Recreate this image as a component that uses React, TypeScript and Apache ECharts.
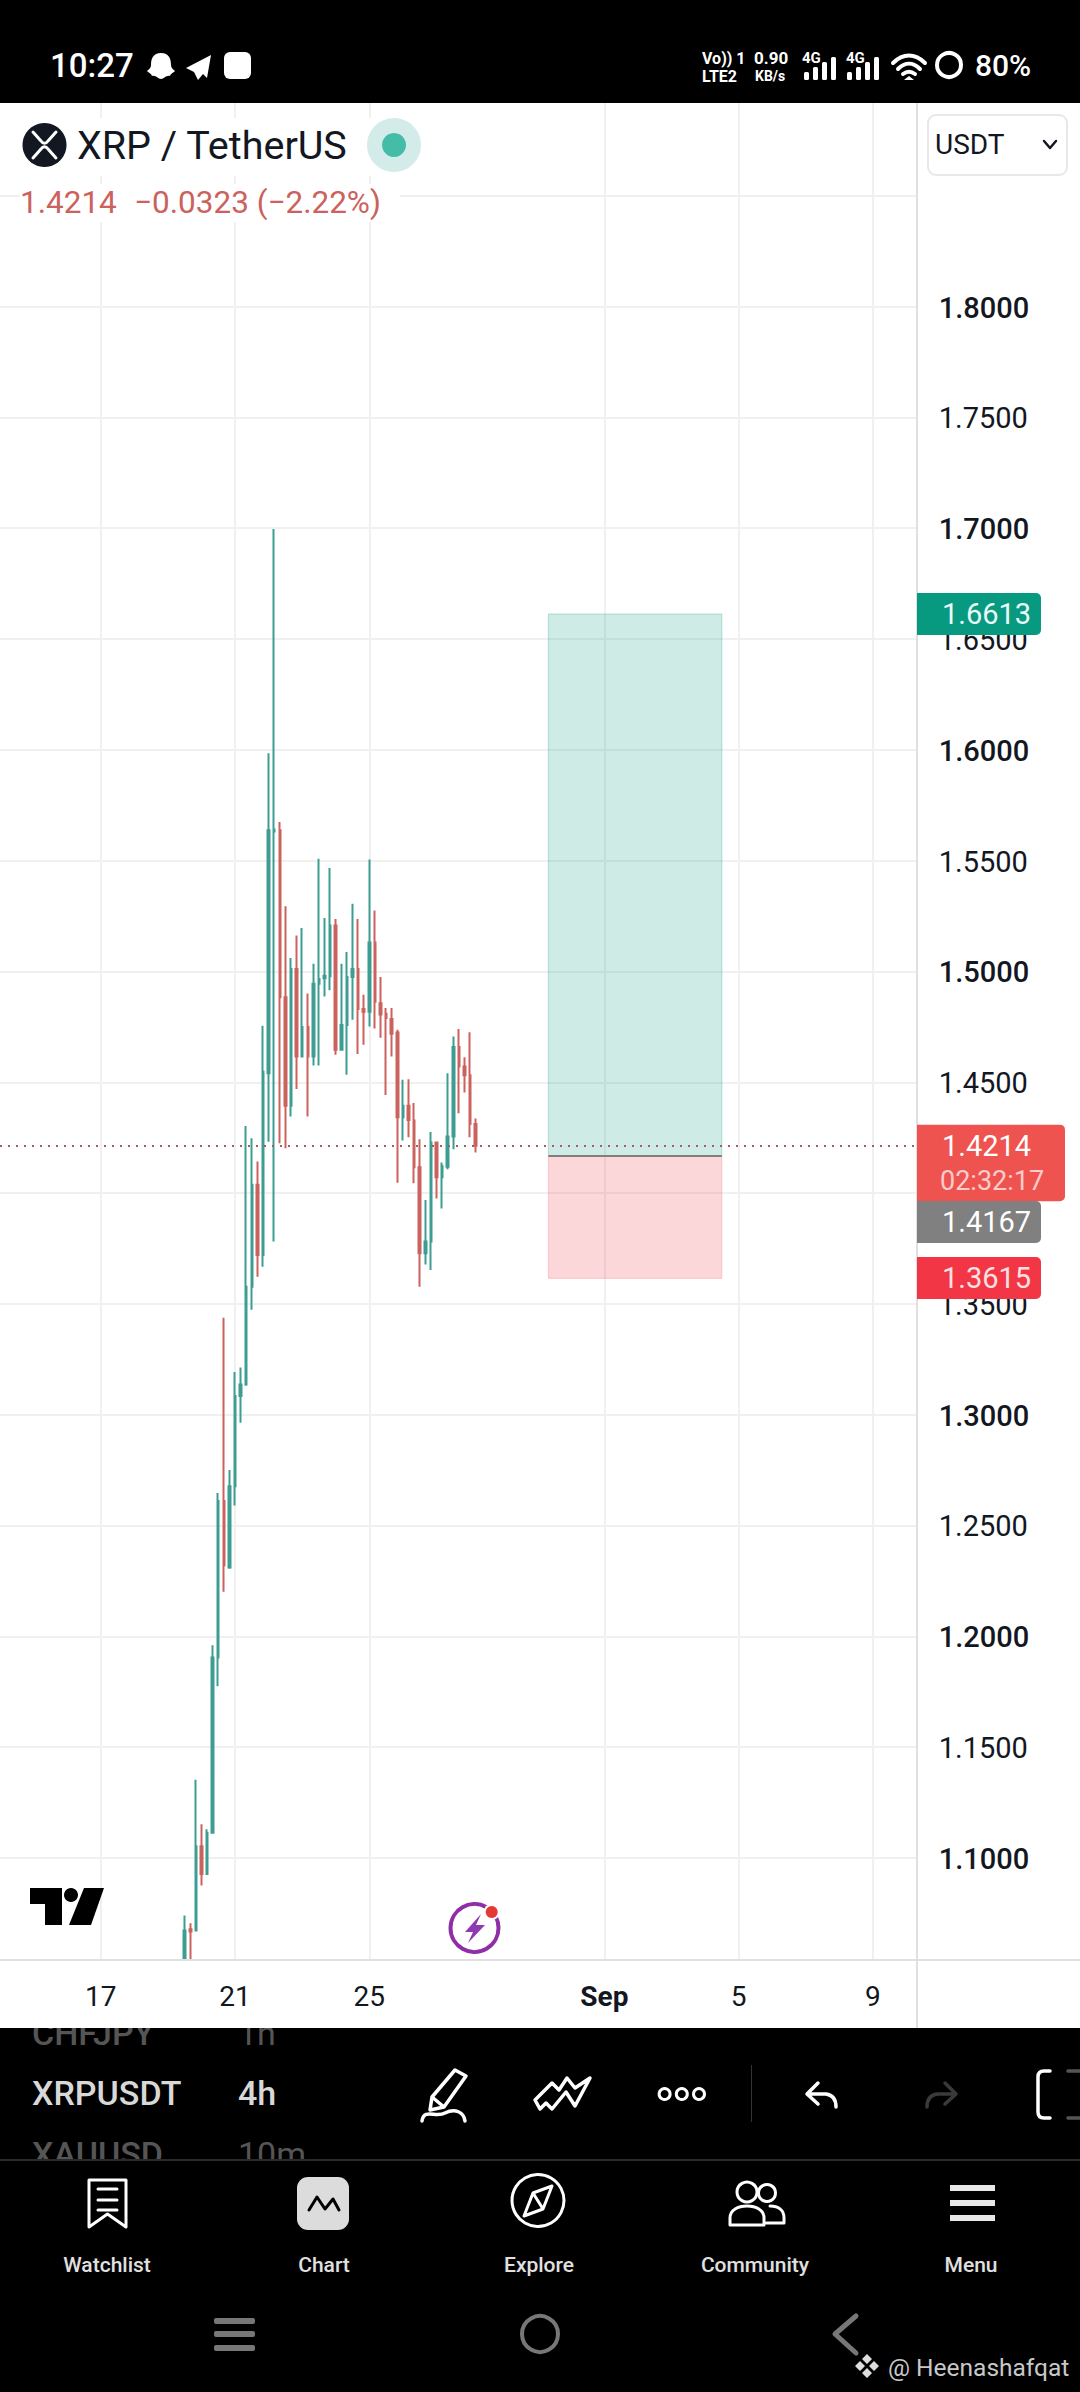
import React, { useEffect, useRef } from "react";
import * as echarts from "echarts";

const FONT = "Roboto, sans-serif";
const INK = "#131722";
const UP = "#3e9d92";
const DOWN = "#cb625e";

// Slots are 4h bars. Tick labels sit on these slots.
const slotCount = 165;
const firstBarSlot = 33;
const tickSlots = [18, 42, 66, 108, 132, 156];
const tickLabels = ["17", "21", "25", "Sep", "5", "9"];
const boldTickLabels = ["Sep"];

const opens = [1.04, 1.0678, 1.0672, 1.1052, 1.0927, 1.1114, 1.1904, 1.261, 1.231, 1.2677, 1.3084, 1.3136, 1.3577, 1.4037, 1.372, 1.4541, 1.5632, 1.5637, 1.4884, 1.4394, 1.5011, 1.4616, 1.4749, 1.4616, 1.4945, 1.4969, 1.4978, 1.5207, 1.4647, 1.4758, 1.4975, 1.5011, 1.483, 1.4818, 1.5131, 1.4857, 1.4809, 1.4785, 1.4725, 1.4342, 1.4394, 1.4327, 1.4116, 1.3728, 1.3781, 1.4228, 1.4071, 1.4119, 1.4255, 1.4659, 1.4571, 1.4532, 1.4312];
const closes = [1.0672, 1.0668, 1.1052, 1.0927, 1.1114, 1.1904, 1.261, 1.232, 1.2677, 1.3084, 1.3136, 1.3577, 1.4037, 1.372, 1.4549, 1.5637, 1.564, 1.4884, 1.4394, 1.5011, 1.4616, 1.4749, 1.4616, 1.4945, 1.4966, 1.4981, 1.5207, 1.4647, 1.4758, 1.4975, 1.5011, 1.483, 1.4818, 1.5131, 1.4863, 1.4806, 1.479, 1.4719, 1.4342, 1.4394, 1.433, 1.4116, 1.3728, 1.3781, 1.4228, 1.4071, 1.4122, 1.4255, 1.4659, 1.4571, 1.4532, 1.4312, 1.4214];
const lows = [1.03, 1.04, 1.0672, 1.0875, 1.0927, 1.1114, 1.1775, 1.2201, 1.2305, 1.259, 1.2964, 1.313, 1.3473, 1.3622, 1.3668, 1.4232, 1.3781, 1.4225, 1.4202, 1.4345, 1.4469, 1.4616, 1.4345, 1.4576, 1.4576, 1.4887, 1.4915, 1.4624, 1.4644, 1.4534, 1.4782, 1.4628, 1.4669, 1.4752, 1.4743, 1.4701, 1.4442, 1.4616, 1.4047, 1.4237, 1.4252, 1.4044, 1.3577, 1.3678, 1.3653, 1.3975, 1.393, 1.4107, 1.4198, 1.436, 1.4454, 1.4252, 1.4183];
const highs = [1.074, 1.0705, 1.1353, 1.1152, 1.1129, 1.196, 1.2646, 1.3437, 1.275, 1.3192, 1.3213, 1.4303, 1.4247, 1.4142, 1.4755, 1.5985, 1.6997, 1.5674, 1.5294, 1.5061, 1.5162, 1.5196, 1.49, 1.5035, 1.5508, 1.5241, 1.5467, 1.5237, 1.5035, 1.5088, 1.5306, 1.5237, 1.4895, 1.5505, 1.5275, 1.4975, 1.4835, 1.4835, 1.4737, 1.4511, 1.4514, 1.4406, 1.4243, 1.3969, 1.4275, 1.4228, 1.4138, 1.4541, 1.4707, 1.474, 1.4613, 1.4726, 1.4336];

// Long position tool
const positionStartSlot = 98;
const positionEndSlot = 129;
const targetPrice = 1.6613;
const entryPrice = 1.4167;
const stopPrice = 1.3615;
const lastPrice = 1.4214;
const countdown = "02:32:17";

// Price scale
const yMin = 1.05;
const yMax = 1.9;
const yStep = 0.05;
const yLabelLimit = 1.81;
const hiddenYLabels = ["1.4000"];

// Frame of the plot
const gridLeft = -4;
const gridWidth = 921.7;
const gridTop = 85;
const gridHeight = 1883.7;
const priceToY = (p: number) => gridTop + ((yMax - p) / (yMax - yMin)) * gridHeight;

const categories = Array.from({ length: slotCount }, (_, i) => String(i));
const candleData = opens.map((o, i) => [o, closes[i], lows[i], highs[i]]);

const shapes: Record<string, string> = {
  tvT: "M30 1888 L62 1888 L62 1925 L45 1925 L45 1904 L30 1904 Z",
  tvSlash: "M84 1888 L104 1888 L91 1925 L69 1925 Z",
  bolt: "M481 1914 L465 1932 L473 1932 L468 1943 L485 1925 L476 1925 Z",
  ghost: "M161 53 C153 53 151 59 151 65 C151 68 149 69 147 71 C149 73 151 73 152 76 C156 75 158 79 161 79 C164 79 166 75 170 76 C171 73 173 73 175 71 C173 69 171 68 171 65 C171 59 169 53 161 53 Z",
  plane: "M211 55 L186 68 L194 72 L198 80 L203 74 L207 78 Z",
  wifiArcs: "M893 63 C903 53 915 53 925 63 M898 69 C905 62 913 62 920 69 M903 74 C907 71 911 71 915 74",
  wifiArrows: "M909 76 L904 80 L914 80 Z",
  xrpX: "M33 132 L41 141 C43 144 46 144 48 141 L56 132 M33 158 L41 149 C43 146 46 146 48 149 L56 158",
  chevron: "M1044 141 L1050 148 L1056 141",
  pencil: "M455 2070 L466 2076 L444 2107 L430 2110 L432 2097 Z M432 2097 L444 2107",
  squiggle: "M422 2121 C424 2108 436 2118 445 2113 C455 2108 464 2112 465 2121",
  drawTools: "M535 2100 L552 2083 L559 2090 L567 2078 L575 2088 L590 2078 L575 2106 L566 2092 L552 2109 L546 2103 L540 2109 Z",
  undo: "M818 2083 L807 2094 L818 2104 M808 2094 L826 2094 C833 2095 836 2100 836 2107",
  redo: "M945 2083 L956 2094 L945 2104 M955 2094 L937 2094 C930 2095 927 2100 927 2107",
  fullLeft: "M1050 2071 L1044 2071 Q1038 2071 1038 2077 L1038 2112 Q1038 2118 1044 2118 L1050 2118",
  fullRight: "M1068 2071 L1080 2071 M1068 2118 L1080 2118",
  bookmark: "M89 2180 L126 2180 L126 2227 L107.5 2214 L89 2227 Z M98 2189 L117 2189 M98 2200 L117 2200 M98 2210 L117 2210",
  zigzag: "M309 2210 L317 2197 L325 2209 L333 2199 L339 2210",
  needle: "M552 2186 L543 2209 L524 2216 L533 2193 Z M533 2193 L543 2209",
  bodyA: "M730 2225 L764 2225 L764 2218 C764 2210 756 2206 747 2206 C738 2206 730 2210 730 2218 Z",
  bodyB: "M770 2206 C778 2206 784 2210 784 2218 L784 2223 L766 2223",
  back: "M856 2316 L835 2334 L856 2353",
  binance: "M867 2354 L872 2359 L867 2364 L862 2359 Z M867 2368 L872 2373 L867 2378 L862 2373 Z M860 2361 L865 2366 L860 2371 L855 2366 Z M874 2361 L879 2366 L874 2371 L869 2366 Z",
};
Object.keys(shapes).forEach((name) => {
  echarts.graphic.registerShape(name, echarts.graphic.extendPath(shapes[name] as any, {}));
});

const txt = (text: string, x: number, y: number, fontSize: number, fill: string, opts: any = {}) => ({
  type: "text",
  z: opts.z ?? 60,
  x,
  y,
  style: {
    text,
    fontSize,
    fontFamily: FONT,
    fontWeight: opts.weight ?? 400,
    fill,
    align: opts.align ?? "left",
    verticalAlign: "middle",
  },
});
const rect = (x: number, y: number, width: number, height: number, fill: string, z = 60, r: any = 0, extra: any = {}) => ({
  type: "rect",
  z,
  shape: { x, y, width, height, r },
  style: { fill, ...extra },
});
const stroke = (type: string, color: string, lineWidth: number, z = 60) => ({
  type,
  z,
  style: { fill: "none", stroke: color, lineWidth, lineCap: "round", lineJoin: "round" },
});
const solid = (type: string, color: string, z = 60) => ({ type, z, style: { fill: color } });
const circle = (cx: number, cy: number, r: number, style: any, z = 60) => ({
  type: "circle",
  z,
  shape: { cx, cy, r },
  style,
});

const priceChip = (price: number, y: number, fill: string, textFill: string) => [
  rect(917, y - 21, 124, 42, fill, 30, [0, 5, 5, 0]),
  txt(price.toFixed(4), 942, y, 29, textFill, { z: 31 }),
];

const navLabels = [
  ["Watchlist", 107],
  ["Chart", 324],
  ["Explore", 539],
  ["Community", 755],
  ["Menu", 971],
] as const;

function buildGraphics() {
  const lastY = priceToY(lastPrice);
  const signal = (x0: number) =>
    [0, 1, 2, 3].map((k) => rect(x0 + k * 9, 72 - k * 5, 5, 8 + k * 5, "#fff", 60, 1.5));
  return [
    // Chart overlays
    rect(10, 118, 415, 58, "#fff", 10),
    rect(20, 184, 380, 38, "#fff", 10),

    // Panels below the plot
    rect(0, 1961, 1080, 67, "#fff", 20),
    rect(0, 2028, 1080, 364, "#000", 10),
    txt("CHFJPY", 32, 2033, 34, "#555", { z: 15, weight: 500 }),
    txt("1h", 238, 2033, 34, "#555", { z: 15 }),
    txt("XAUUSD", 32, 2154, 34, "#555", { z: 15, weight: 500 }),
    txt("10m", 238, 2154, 34, "#555", { z: 15 }),
    rect(0, 2160, 1080, 232, "#000", 20),
    rect(0, 2159, 1080, 2, "#2a2a2a", 21),
    {
      type: "line",
      z: 25,
      shape: { x1: 917, y1: 103, x2: 917, y2: 2028 },
      style: { stroke: "#e0e0e0", lineWidth: 2 },
    },
    {
      type: "line",
      z: 25,
      shape: { x1: 0, y1: 1960, x2: 1080, y2: 1960 },
      style: { stroke: "#e0e0e0", lineWidth: 2 },
    },

    // Price chips
    rect(917, lastY - 21, 148, 76.5, "#ef5350", 30, [0, 5, 5, 0]),
    txt(lastPrice.toFixed(4), 942, lastY, 29, "#fff", { z: 31 }),
    txt(countdown, 940, lastY + 35, 27, "#fbcccc", { z: 31 }),
    ...priceChip(targetPrice, priceToY(targetPrice), "#089981", "#e8fbf6"),
    ...priceChip(entryPrice, 1222, "#808080", "#fff"),
    ...priceChip(stopPrice, 1278, "#f23645", "#fde0e2"),

    // Status bar
    rect(0, 0, 1080, 103, "#000", 50),
    txt("10:27", 50, 65, 33, "#fff", { weight: 500 }),
    { ...solid("ghost", "#fff") },
    { ...solid("plane", "#fff") },
    rect(224, 52, 27, 27, "#fff", 60, 6),
    txt("Vo\u0029\u0029 1", 702, 58, 16, "#fff", { weight: 700 }),
    txt("LTE2", 702, 76, 16, "#fff", { weight: 700 }),
    txt("0.90", 754, 58, 17, "#fff", { weight: 700 }),
    txt("KB/s", 755, 76, 14, "#fff", { weight: 700 }),
    txt("4G", 802, 58, 15, "#fff", { weight: 700 }),
    ...signal(804),
    txt("4G", 846, 58, 15, "#fff", { weight: 700 }),
    ...signal(847),
    { ...stroke("wifiArcs", "#fff", 4) },
    { ...solid("wifiArrows", "#fff") },
    circle(949, 65, 12, { fill: "none", stroke: "#fff", lineWidth: 4 }),
    txt("80%", 975, 65, 30, "#fff", { weight: 500 }),

    // Title block
    circle(44.5, 145, 22, { fill: INK }),
    { ...stroke("xrpX", "#fff", 3) },
    txt("XRP / TetherUS", 77, 145, 39.5, INK, { z: 11 }),
    circle(394, 145, 27, { fill: "#d4ece9" }, 11),
    circle(394, 145, 12, { fill: "#45bca8" }, 11),
    txt("1.4214", 20, 202, 31.5, DOWN, { z: 11 }),
    txt("\u22120.0323 (\u22122.22%)", 134, 202, 31.5, DOWN, { z: 11 }),
    rect(928, 115, 139, 60, "#fff", 30, 8, { stroke: "#e8e8e8", lineWidth: 2 }),
    txt("USDT", 935, 144, 28, INK, { z: 31 }),
    { ...stroke("chevron", INK, 2.5, 31) },

    // Marks on the plot
    { ...solid("tvT", "#000", 15) },
    circle(71, 1895, 7, { fill: "#000" }, 15),
    { ...solid("tvSlash", "#000", 15) },
    circle(474.5, 1928, 24, { fill: "#fff", stroke: "#8e2fa5", lineWidth: 4 }, 15),
    { ...solid("bolt", "#8e3ab0", 16) },
    circle(491.7, 1912, 8, { fill: "#fff" }, 16),
    circle(491.7, 1912, 6, { fill: "#e53935" }, 17),

    // Toolbar
    txt("XRPUSDT", 32, 2093, 34, "#d8d8d8", { weight: 500 }),
    txt("4h", 238, 2093, 34, "#d8d8d8", { weight: 500 }),
    { ...stroke("pencil", "#fff", 3.5) },
    { ...stroke("squiggle", "#fff", 3.5) },
    { ...stroke("drawTools", "#fff", 3.5) },
    circle(664.6, 2094, 5.5, { fill: "none", stroke: "#fff", lineWidth: 3 }),
    circle(681.8, 2094, 5.5, { fill: "none", stroke: "#fff", lineWidth: 3 }),
    circle(699, 2094, 5.5, { fill: "none", stroke: "#fff", lineWidth: 3 }),
    rect(751, 2065, 1, 57, "#333"),
    { ...stroke("undo", "#fff", 3.5) },
    { ...stroke("redo", "#3a3a3a", 3.5) },
    { ...stroke("fullLeft", "#fff", 3.5) },
    { ...stroke("fullRight", "#555", 3.5) },

    // Bottom navigation
    ...navLabels.map(([label, x]) => txt(label, x, 2265, 21, "#e0e0e0", { align: "center", weight: 500 })),
    { ...stroke("bookmark", "#fff", 3) },
    rect(297, 2177, 52, 53, "#dcdcdc", 60, 11),
    { ...stroke("zigzag", "#000", 3, 61) },
    circle(538, 2200.5, 26, { fill: "none", stroke: "#fff", lineWidth: 3 }),
    { ...stroke("needle", "#fff", 3) },
    circle(747, 2192, 10, { fill: "none", stroke: "#fff", lineWidth: 3 }),
    circle(767, 2193, 8.5, { fill: "none", stroke: "#fff", lineWidth: 3 }),
    { ...stroke("bodyB", "#fff", 3) },
    { ...stroke("bodyA", "#fff", 3) },
    rect(950, 2185, 45, 6, "#e8e8e8"),
    rect(950, 2200, 45, 6, "#e8e8e8"),
    rect(950, 2215, 45, 6, "#e8e8e8"),

    // System navigation
    rect(214, 2318, 41, 6, "#777", 60, 2),
    rect(214, 2331, 41, 6, "#777", 60, 2),
    rect(214, 2345, 41, 6, "#777", 60, 2),
    circle(540, 2334, 18, { fill: "none", stroke: "#777", lineWidth: 4 }),
    { ...stroke("back", "#777", 5) },
    { ...solid("binance", "#ddd", 62) },
    txt("@ Heenashafqat", 888, 2367, 24.5, "#c8c8c8", { z: 62 }),
  ];
}

export default function App() {
  const ref = useRef<HTMLDivElement>(null);

  useEffect(() => {
    document.body.style.margin = "0";
    document.body.style.background = "#000";
    const chart = echarts.init(ref.current!, undefined, { renderer: "svg" });
    const isTick = (i: number) => tickSlots.includes(i);
    chart.setOption({
      animation: false,
      backgroundColor: "#fff",
      grid: { left: gridLeft, top: gridTop, width: gridWidth, height: gridHeight, containLabel: false },
      xAxis: [
        {
          type: "category",
          data: categories,
          boundaryGap: false,
          axisLine: { show: false },
          axisTick: { show: false },
          axisLabel: { show: false },
          splitLine: {
            show: true,
            interval: (i: number) => isTick(i),
            lineStyle: { color: "#f0f0f0", width: 2 },
          },
        },
        {
          type: "category",
          position: "bottom",
          data: categories,
          boundaryGap: false,
          z: 30,
          axisLine: { show: false },
          axisTick: { show: false },
          splitLine: { show: false },
          axisLabel: {
            margin: 14,
            interval: (i: number) => isTick(i),
            formatter: (_: string, i: number) => {
              const label = tickLabels[tickSlots.indexOf(i)] ?? "";
              return boldTickLabels.includes(label) ? `{b|${label}}` : label;
            },
            fontFamily: FONT,
            fontSize: 28,
            color: INK,
            rich: { b: { fontFamily: FONT, fontSize: 28, fontWeight: 700, color: INK } },
          },
        },
      ],
      yAxis: {
        type: "value",
        position: "right",
        min: yMin,
        max: yMax,
        interval: yStep,
        axisLine: { show: false },
        axisTick: { show: false },
        axisLabel: {
          margin: 21,
          padding: [2, 0, 0, 0],
          fontFamily: FONT,
          fontSize: 29,
          color: INK,
          showMinLabel: false,
          showMaxLabel: false,
          formatter: (v: number) => {
            const text = v.toFixed(4);
            if (v > yLabelLimit || hiddenYLabels.includes(text)) return "";
            const major = Math.round(v * 100) % 10 === 0;
            return major ? `{m|${text}}` : text;
          },
          rich: { m: { fontFamily: FONT, fontSize: 29, fontWeight: 500, color: INK } },
        },
        splitLine: { show: true, lineStyle: { color: "#f0f0f0", width: 2 } },
      },
      series: [
        {
          type: "candlestick",
          silent: true,
          xAxisIndex: 0,
          barWidth: 2,
          data: [...Array(firstBarSlot).fill("-"), ...candleData],
          itemStyle: {
            color: UP,
            color0: DOWN,
            borderColor: UP,
            borderColor0: DOWN,
            borderWidth: 2,
          },
          markArea: {
            silent: true,
            data: [
              [
                {
                  xAxis: String(positionStartSlot),
                  yAxis: targetPrice,
                  itemStyle: { color: "rgba(8,153,129,0.2)", borderColor: "rgba(8,153,129,0.25)", borderWidth: 1 },
                },
                { xAxis: String(positionEndSlot), yAxis: entryPrice },
              ],
              [
                {
                  xAxis: String(positionStartSlot),
                  yAxis: entryPrice,
                  itemStyle: { color: "rgba(242,54,69,0.2)", borderColor: "rgba(242,54,69,0.2)", borderWidth: 1 },
                },
                { xAxis: String(positionEndSlot), yAxis: stopPrice },
              ],
            ],
          },
          markLine: {
            silent: true,
            symbol: "none",
            precision: 4,
            label: { show: false },
            data: [
              { yAxis: lastPrice, lineStyle: { color: "#a0605e", type: [2, 6], width: 2 } },
              [
                { xAxis: String(positionStartSlot), yAxis: entryPrice, lineStyle: { color: "#808080", type: "solid", width: 2 } },
                { xAxis: String(positionEndSlot), yAxis: entryPrice },
              ],
            ],
          },
        },
      ],
      graphic: { elements: buildGraphics() },
    });
    return () => chart.dispose();
  }, []);

  return (
    <div
      ref={ref}
      style={{ position: "absolute", left: 0, top: 0, width: 1080, height: 2392, overflow: "hidden" }}
    />
  );
}
